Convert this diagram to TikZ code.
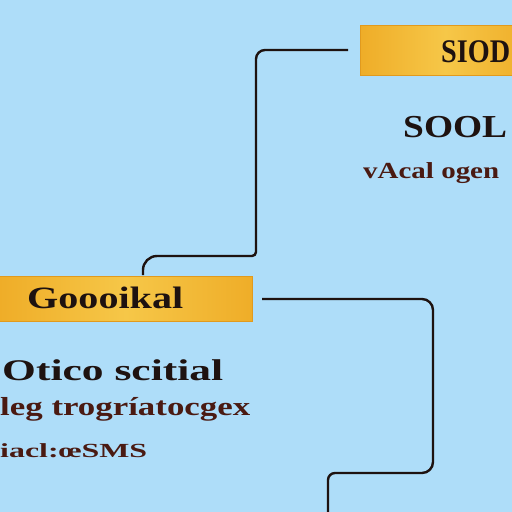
\documentclass[tikz,border=0pt]{standalone}
\usepackage{fontspec}
\usepackage{graphicx}
\setmainfont{Liberation Serif}
\definecolor{bg}{HTML}{AEDDF9}
\definecolor{boxedge}{HTML}{EFAD28}
\definecolor{boxmid}{HTML}{F6C748}
\definecolor{boxline}{HTML}{E19A1E}
\definecolor{ink}{HTML}{1E1210}
\definecolor{brownink}{HTML}{4A1A12}
\newcommand{\fitw}[2]{\resizebox{#1}{\height}{#2}}
\begin{document}
\begin{tikzpicture}[x=1pt,y=-1pt,
  labelbox/.style={draw=boxline,line width=0.8pt,inner sep=0pt,anchor=north west,
    left color=boxedge,right color=boxedge,middle color=boxmid},
  txt/.style={inner sep=0pt,anchor=base west},
  wire/.style={draw=ink,line width=2.4pt}]
\useasboundingbox (0,0) rectangle (512,512);
\clip (0,0) rectangle (512,512);
\fill[bg] (0,0) rectangle (512,512);
% boxes
\node[labelbox,minimum width=170pt,minimum height=50pt] (topbox) at (360,25) {};
\node[labelbox,minimum width=253pt,minimum height=45pt] (leftbox) at (-1,276) {};
% texts
\node[txt,text=ink] (siod) at (441,62) {\fontsize{33}{33}\selectfont\bfseries\fitw{69pt}{SIOD}};
\node[txt,text=ink] (sool) at (403,137) {\fontsize{32}{32}\selectfont\bfseries\fitw{104pt}{SOOL}};
\node[txt,text=brownink] (acal) at (363,178) {\fontsize{23}{23}\selectfont\bfseries\fitw{136pt}{vAcal ogen}};
\node[txt,text=ink] (good) at (27,308) {\fontsize{31}{31}\selectfont\bfseries\fitw{156pt}{Goooikal}};
\node[txt,text=ink] (l1) at (2,380) {\fontsize{30}{30}\selectfont\bfseries\fitw{221pt}{Otico scitial}};
\node[txt,text=brownink] (l2) at (0,415) {\fontsize{26}{26}\selectfont\bfseries\fitw{250pt}{leg trogríatocgex}};
\node[txt,text=brownink] (l3) at (0,457) {\fontsize{20}{20}\selectfont\bfseries\fitw{147pt}{iacl:œSMS}};
% connector coordinates
\coordinate (a0) at (348,50);
\coordinate (a1) at (256,50);
\coordinate (a2) at (256,256);
\coordinate (a3) at (143,256);
\coordinate (a4) at (143,275);
\coordinate (b0) at (262,299);
\coordinate (b1) at (433,299);
\coordinate (b2) at (433,473);
\coordinate (b3) at (328,473);
\coordinate (b4) at (328,514);
\draw[wire,rounded corners=9pt] (a0) -- (a1) [rounded corners=4pt] -- (a2) [rounded corners=14pt] -- (a3) -- (a4);
\draw[wire,rounded corners=11pt] (b0) -- (b1) -- (b2) [rounded corners=7pt] -- (b3) -- (b4);
\end{tikzpicture}
\end{document}
